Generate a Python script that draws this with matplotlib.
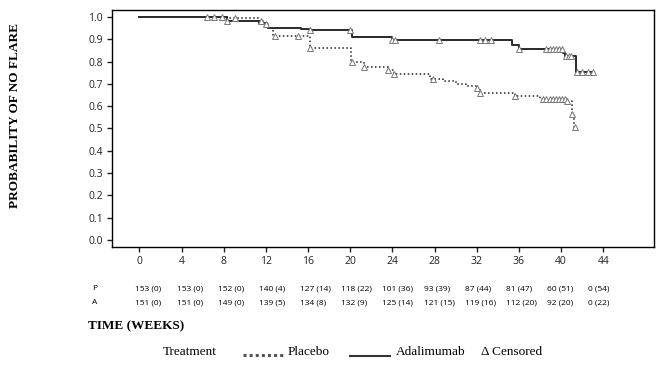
import numpy as np
import matplotlib
matplotlib.use("Agg")
import matplotlib.pyplot as plt
from matplotlib.lines import Line2D

# Kaplan-Meier steps
pbo_t = [0, 8.5, 11.3, 11.8, 12.2, 12.7, 16.2, 20.1, 21.3, 23.6, 24.1, 27.6, 28.8, 30.0, 31.0,
         32.0, 32.3, 35.6, 38.0, 40.5, 41.0, 41.2, 41.5]
pbo_s = [1.0, 0.993, 0.98, 0.967, 0.952, 0.915, 0.862, 0.797, 0.777, 0.762, 0.742, 0.722, 0.712,
         0.70, 0.69, 0.68, 0.66, 0.645, 0.632, 0.625, 0.565, 0.505, 0.505]
pbo_cens = [7.8, 9.1, 11.5, 12.0, 12.9, 15.0, 16.2, 20.2, 21.3, 23.6, 24.1, 27.8, 32.0, 32.3, 35.6,
            38.3, 38.6, 38.9, 39.2, 39.5, 39.8, 40.1, 40.4, 40.6, 41.0, 41.3]

ada_t = [0, 8.3, 11.3, 12.1, 12.2, 15.3, 16.2, 20.2, 24.0, 35.3, 36.0, 40.2, 40.4, 41.4, 43.0]
ada_s = [1.0, 0.982, 0.972, 0.961, 0.952, 0.946, 0.94, 0.909, 0.897, 0.874, 0.858, 0.837, 0.825,
         0.755, 0.755]
ada_cens = [6.4, 7.1, 8.3, 16.2, 20.0, 24.0, 24.2, 28.4, 32.3, 32.8, 33.3, 36.0, 38.6, 38.9, 39.2,
            39.5, 39.8, 40.1, 40.5, 40.7, 40.9, 41.5, 42.0, 42.5, 43.0]

# numbers at risk (events)
risk_weeks = [0, 4, 8, 12, 16, 20, 24, 28, 32, 36, 40, 44]
pbo_risk = [153, 153, 152, 140, 127, 118, 101, 93, 87, 81, 60, 0]
pbo_events = [0, 0, 0, 4, 14, 22, 36, 39, 44, 47, 51, 54]
ada_risk = [151, 151, 149, 139, 134, 132, 125, 121, 119, 112, 92, 0]
ada_events = [0, 0, 0, 5, 8, 9, 14, 15, 16, 20, 20, 22]


def km_at(times, surv, pts):
    idx = np.searchsorted(times, pts, side='right') - 1
    return np.array(surv)[idx]


fig = plt.figure(figsize=(6.65, 3.67), dpi=100)
ax = fig.add_axes([0.1684, 0.327, 0.815, 0.6458])

ax.step(pbo_t, pbo_s, where='post', color='#222222', linestyle=(0, (1, 1.6)), linewidth=1.1)
ax.step(ada_t, ada_s, where='post', color='#2a2a2a', linestyle='-', linewidth=1.4)
ax.plot(pbo_cens, km_at(pbo_t, pbo_s, pbo_cens), linestyle='none', marker='^', markersize=5,
        markerfacecolor='white', markeredgecolor='#777777', markeredgewidth=0.7)
ax.plot(ada_cens, km_at(ada_t, ada_s, ada_cens), linestyle='none', marker='^', markersize=5,
        markerfacecolor='white', markeredgecolor='#777777', markeredgewidth=0.7)

ax.set_xlim(-2.6, 48.8)
ax.set_ylim(-0.031, 1.031)
ax.set_xticks(risk_weeks)
ax.set_yticks(np.arange(0, 1.01, 0.1))
ax.set_yticklabels(['%.1f' % v for v in np.arange(0, 1.01, 0.1)])
ax.tick_params(direction='out', length=3.5, width=1, labelsize=7.5, pad=3, colors='#222222')
for lab in ax.get_xticklabels() + ax.get_yticklabels():
    lab.set_family('Open Sans')
for sp in ax.spines.values():
    sp.set_linewidth(1)

fig.text(0.022, 1 - 115 / 367, 'PROBABILITY OF NO FLARE', rotation=90, ha='center', va='center',
         family='Liberation Serif', fontweight='bold', fontsize=9.5)

# risk table under the axis
tr = ax.get_xaxis_transform()
ax.text(-4.5, -0.177, 'P', transform=tr, ha='left', va='center', fontsize=6, family='Open Sans')
ax.text(-4.5, -0.235, 'A', transform=tr, ha='left', va='center', fontsize=6, family='Open Sans')
for w, pr, pe, ar, ae in zip(risk_weeks, pbo_risk, pbo_events, ada_risk, ada_events):
    xpos = w * 0.976 - 0.38
    ax.text(xpos, -0.177, '%d (%d)' % (pr, pe), transform=tr, ha='left', va='center',
            fontsize=6, family='Open Sans', clip_on=False)
    ax.text(xpos, -0.235, '%d (%d)' % (ar, ae), transform=tr, ha='left', va='center',
            fontsize=6, family='Open Sans', clip_on=False)

fig.text(88 / 665, 1 - 326 / 367, 'TIME (WEEKS)', ha='left', va='center',
         family='Liberation Serif', fontweight='bold', fontsize=9.5)

# legend row
ly = 1 - 352 / 367
fig.text(163 / 665, ly, 'Treatment', ha='left', va='center', family='Liberation Serif', fontsize=9.5)
fig.add_artist(Line2D([243 / 665, 283 / 665], [ly - 0.008, ly - 0.008], color='#555555',
                      linestyle=(0, (1, 1)), linewidth=2.2))
fig.text(288 / 665, ly, 'Placebo', ha='left', va='center', family='Liberation Serif', fontsize=9.5)
fig.add_artist(Line2D([350 / 665, 390 / 665], [ly - 0.012, ly - 0.012], color='#333333',
                      linestyle='-', linewidth=1.5))
fig.text(396 / 665, ly, 'Adalimumab', ha='left', va='center', family='Liberation Serif', fontsize=9.5)
fig.text(481 / 665, ly, '\u0394 Censored', ha='left', va='center', family='Liberation Serif',
         fontsize=9.5)

fig.savefig('out.png', dpi=100)
